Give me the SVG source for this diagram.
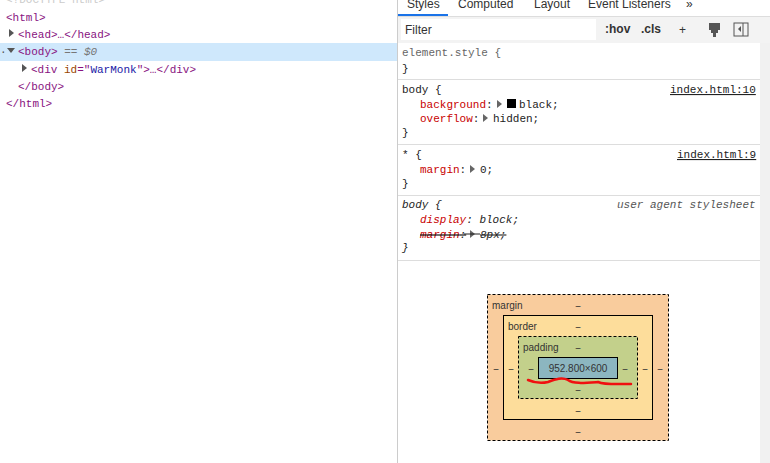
<svg xmlns="http://www.w3.org/2000/svg" width="770" height="463" viewBox="0 0 770 463">
<style>
text{font-family:"Liberation Mono",monospace;font-size:11px}
.tag{fill:#881280}.attr{fill:#994500}.val{fill:#1a1aa6}.g{fill:#888}
.prop{fill:#c80000}.tab{font-family:"Liberation Sans",sans-serif;font-size:12px;fill:#333}
.bm{font-family:"Liberation Sans",sans-serif;font-size:10px;fill:#333}
.sep{stroke:#ddd;stroke-width:1}
</style>
<rect width="770" height="463" fill="#fff"/>
<g id="elements">
<text x="6" y="3" fill="#ccc">&lt;!DOCTYPE html&gt;</text>
<text x="6" y="21" class="tag">&lt;html&gt;</text>
<path d="M9,29 l5,4 -5,4z" fill="#555"/>
<text x="18" y="38" class="tag">&lt;head&gt;…&lt;/head&gt;</text>
<rect x="0" y="43" width="397" height="18" fill="#cfe8fc"/>
<text x="0" y="55" fill="#555">·</text>
<path d="M7,48 l8,0 -4,5z" fill="#555"/>
<text x="18" y="55"><tspan class="tag">&lt;body&gt;</tspan><tspan fill="#777" font-style="italic"> == $0</tspan></text>
<path d="M22,64 l5,4 -5,4z" fill="#555"/>
<text x="31" y="73"><tspan class="tag">&lt;div </tspan><tspan class="attr">id</tspan><tspan class="tag">="</tspan><tspan class="val">WarMonk</tspan><tspan class="tag">"&gt;…&lt;/div&gt;</tspan></text>
<text x="18" y="90" class="tag">&lt;/body&gt;</text>
<text x="6" y="107" class="tag">&lt;/html&gt;</text>
</g>
<line x1="397.5" y1="0" x2="397.5" y2="463" stroke="#ccc"/>
<g id="styles">
<text x="407" y="8" class="tab">Styles</text>
<text x="458" y="8" class="tab">Computed</text>
<text x="534" y="8" class="tab">Layout</text>
<text x="588" y="8" class="tab">Event Listeners</text>
<text x="686" y="8" class="tab">»</text>
<rect x="398" y="14" width="50" height="2" fill="#1a73e8"/>
<line x1="398" y1="16.5" x2="770" y2="16.5" class="sep"/>
<rect x="398" y="17" width="372" height="26" fill="#f3f3f3"/>
<rect x="401" y="19" width="195" height="21" fill="#fff"/>
<text x="405" y="34" class="tab" fill="#555">Filter</text>
<text x="605" y="33" class="tab" font-weight="bold" fill="#444">:hov</text>
<text x="641" y="33" class="tab" font-weight="bold" fill="#444">.cls</text>
<text x="679" y="34" class="tab" font-size="16" fill="#444">+</text>
<rect x="709" y="23" width="11" height="7" fill="#555"/><rect x="711" y="30" width="7" height="3" fill="#555"/><rect x="713" y="33" width="3" height="4" fill="#555"/>
<rect x="734" y="23" width="14" height="13" fill="none" stroke="#555"/><line x1="743" y1="23" x2="743" y2="36" stroke="#555"/><path d="M741,26 l-3,3 3,3z" fill="#555"/>
<rect x="760" y="43" width="10" height="420" fill="#f1f1f1"/>
<text x="402" y="56" fill="#666">element.style {</text>
<text x="402" y="72" fill="#222">}</text>
<line x1="398" y1="79.5" x2="760" y2="79.5" class="sep"/>
<text x="402" y="93" fill="#222">body {</text>
<text x="670" y="93" fill="#222" text-decoration="underline">index.html:10</text>
<text x="420" y="108"><tspan class="prop">background</tspan><tspan fill="#222">: </tspan></text>
<path d="M497,100 l5,4 -5,4z" fill="#666"/>
<rect x="507" y="99" width="9" height="9" fill="#000"/>
<text x="519" y="108" fill="#222">black;</text>
<text x="420" y="122"><tspan class="prop">overflow</tspan><tspan fill="#222">: </tspan></text>
<path d="M483,114 l5,4 -5,4z" fill="#666"/>
<text x="493" y="122" fill="#222">hidden;</text>
<text x="402" y="136" fill="#222">}</text>
<line x1="398" y1="144.5" x2="760" y2="144.5" class="sep"/>
<text x="402" y="158" fill="#222">* {</text>
<text x="677" y="158" fill="#222" text-decoration="underline">index.html:9</text>
<text x="420" y="173"><tspan class="prop">margin</tspan><tspan fill="#222">: </tspan></text>
<path d="M470,165 l5,4 -5,4z" fill="#666"/>
<text x="480" y="173" fill="#222">0;</text>
<text x="402" y="187" fill="#222">}</text>
<line x1="398" y1="195.5" x2="760" y2="195.5" class="sep"/>
<text x="402" y="208" fill="#222" font-style="italic">body {</text>
<text x="617" y="208" fill="#555" font-style="italic">user agent stylesheet</text>
<text x="420" y="223" font-style="italic"><tspan class="prop">display</tspan><tspan fill="#222">: block;</tspan></text>
<text x="420" y="238" font-style="italic" text-decoration="line-through"><tspan class="prop">margin</tspan><tspan fill="#222">: </tspan></text>
<path d="M470,230 l5,4 -5,4z" fill="#666"/>
<line x1="464" y1="234" x2="480" y2="234" stroke="#222"/>
<text x="480" y="238" font-style="italic" fill="#222" text-decoration="line-through">8px;</text>
<text x="402" y="251" fill="#222" font-style="italic">}</text>
<line x1="398" y1="260.5" x2="760" y2="260.5" class="sep"/>
</g>
<g id="boxmodel">
<rect x="487.5" y="294.5" width="181" height="146" fill="#f9cc9d" stroke="#000" stroke-dasharray="3,2"/>
<rect x="503.5" y="315.5" width="149" height="104" fill="#fddd9b" stroke="#000"/>
<rect x="518.5" y="336.5" width="119" height="62" fill="#c3d08b" stroke="#000" stroke-dasharray="3,2"/>
<rect x="538.5" y="357.5" width="79" height="21" fill="#8cb6c0" stroke="#000"/>
<text x="492" y="309" class="bm">margin</text>
<text x="508" y="330" class="bm">border</text>
<text x="523" y="351" class="bm">padding</text>
<text x="578" y="372" class="bm" text-anchor="middle">952.800×600</text>
<g class="bm" text-anchor="middle">
<text x="578" y="309">–</text><text x="578" y="330">–</text><text x="578" y="351">–</text>
<text x="578" y="393">–</text><text x="578" y="414">–</text><text x="578" y="435">–</text>
<text x="496" y="372">–</text><text x="511" y="372">–</text><text x="531" y="372">–</text>
<text x="625" y="372">–</text><text x="645" y="372">–</text><text x="660" y="372">–</text>
</g>
<path d="M528,380 C535,383 540,384 548,382 C556,379 562,377 568,380 C573,384 584,383 598,382 C605,385 615,384 631,384" fill="none" stroke="#f01010" stroke-width="2.5" stroke-linecap="round"/>
</g>
</svg>
